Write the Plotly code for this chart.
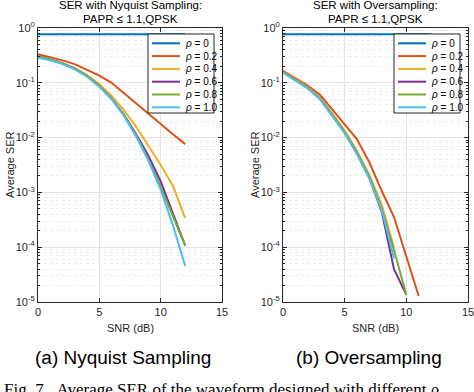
import plotly.graph_objects as go

W, H = 474, 392

# ---------------- data ----------------
snr = [0, 1, 2, 3, 4, 5, 6, 7, 8, 9, 10, 11, 12]
rho_labels = ["0", "0.2", "0.4", "0.6", "0.8", "1.0"]
colors = ["#0072BD", "#D95319", "#EDB120", "#7E2F8E", "#77AC30", "#4DBEEE"]

# (a) Nyquist sampling
nyq_rho_0 = [0.77, 0.77, 0.77, 0.77, 0.77, 0.77, 0.77, 0.77, 0.77, 0.77, 0.77, 0.77, 0.77]
nyq_rho_02 = [0.334, 0.295, 0.257, 0.219, 0.174, 0.135, 0.100, 0.0646, 0.0417, 0.0269, 0.0174, 0.0115, 0.0076]
nyq_rho_04 = [0.302, 0.269, 0.229, 0.186, 0.138, 0.0955, 0.0575, 0.0316, 0.0158, 0.00724, 0.00316, 0.00132, 0.000339]
nyq_rho_06 = [0.302, 0.266, 0.226, 0.182, 0.132, 0.0871, 0.0513, 0.0263, 0.0115, 0.00468, 0.00158, 0.000417, 0.000107]
nyq_rho_08 = [0.302, 0.266, 0.226, 0.182, 0.132, 0.0871, 0.0513, 0.0257, 0.01096, 0.00398, 0.00126, 0.000355, 0.000107]
nyq_rho_10 = [0.288, 0.257, 0.219, 0.176, 0.129, 0.0851, 0.0501, 0.0251, 0.01047, 0.0038, 0.00112, 0.000251, 0.0000457]

# (b) Oversampling
ovs_rho_0 = [0.77, 0.77, 0.77, 0.77, 0.77, 0.77, 0.77, 0.77, 0.77, 0.77, 0.77, 0.77, 0.77]
ovs_rho_02 = [0.166, 0.120, 0.0891, 0.0603, 0.0316, 0.0174, 0.00933, 0.00355, 0.00107, 0.000355, 0.0000676, 0.0000129]
ovs_rho_04 = [0.158, 0.116, 0.0832, 0.0531, 0.0275, 0.0135, 0.00575, 0.00209, 0.000603, 0.0001]
ovs_rho_06 = [0.155, 0.1135, 0.0804, 0.0507, 0.0257, 0.0123, 0.00513, 0.00186, 0.000447, 0.0000398, 0.0000135]
ovs_rho_08 = [0.155, 0.1135, 0.0804, 0.0513, 0.0260, 0.0126, 0.00537, 0.00195, 0.000501, 0.0000891, 0.0000135]
ovs_rho_10 = [0.153, 0.112, 0.0794, 0.0501, 0.0251, 0.0120, 0.00501, 0.00178, 0.000479, 0.0000631]

x_ticks = [0, 5, 10, 15]
y_ticks = [1e-5, 1e-4, 1e-3, 1e-2, 1e-1, 1]
y_ticktext = ["10<sup>-5</sup>", "10<sup>-4</sup>", "10<sup>-3</sup>", "10<sup>-2</sup>", "10<sup>-1</sup>", "10<sup>0</sup>"]
y_minor = [m * 10.0 ** e for e in range(-5, 0) for m in range(2, 10)]

panel_titles = [("SER with Nyquist Sampling:", "PAPR \u2264 1.1,QPSK"),
                ("SER with Oversampling:", "PAPR \u2264 1.1,QPSK")]
captions = ["(a) Nyquist Sampling", "(b) Oversampling"]
fig_caption = "Fig. 7.&nbsp;&nbsp;Average SER of the waveform designed with different <i>\u03c1</i>"

panels = [
    [nyq_rho_0, nyq_rho_02, nyq_rho_04, nyq_rho_06, nyq_rho_08, nyq_rho_10],
    [ovs_rho_0, ovs_rho_02, ovs_rho_04, ovs_rho_06, ovs_rho_08, ovs_rho_10],
]

# ---------------- layout helpers ----------------
def px(x):
    return x / W

def py(y):
    return 1 - y / H

FONT = "Liberation Sans, Arial, Helvetica, sans-serif"
AXC = "#262626"
x_doms = [(38, 222), (283, 468)]
y_dom = (28, 302)

fig = go.Figure()

for p, series in enumerate(panels):
    xa = "x" if p == 0 else "x2"
    ya = "y" if p == 0 else "y2"
    for i, vals in enumerate(series):
        fig.add_trace(go.Scatter(
            x=snr[:len(vals)], y=vals, mode="lines",
            line=dict(color=colors[i], width=2),
            name="\u03c1 = " + rho_labels[i],
            showlegend=False, xaxis=xa, yaxis=ya,
        ))

common_x = dict(range=[0, 15], tickvals=x_ticks, ticks="inside", ticklen=4,
                tickcolor=AXC, showline=True, linecolor=AXC, linewidth=1,
                mirror="ticks", showgrid=True, gridcolor="#e3e3e3", gridwidth=1,
                zeroline=False, automargin=False, ticklabeloverflow="allow",
                tickfont=dict(family=FONT, size=11, color=AXC))
common_y = dict(type="log", range=[-5, 0], tickvals=y_ticks, ticktext=y_ticktext,
                ticks="inside", ticklen=4, tickcolor=AXC, showline=True,
                linecolor=AXC, linewidth=1, mirror="ticks", showgrid=True,
                gridcolor="#e3e3e3", gridwidth=1, zeroline=False, automargin=False,
                tickfont=dict(family=FONT, size=11, color=AXC),
                minor=dict(tickmode="array", tickvals=y_minor, ticks="inside",
                           ticklen=2, tickcolor=AXC, showgrid=True,
                           gridcolor="#ececec", griddash="dot", gridwidth=1))

layout_axes = {}
for p in range(2):
    sx = "" if p == 0 else "2"
    layout_axes["xaxis" + sx] = dict(common_x, domain=[px(x_doms[p][0]), px(x_doms[p][1])],
                                      anchor="y" + sx)
    layout_axes["yaxis" + sx] = dict(common_y, domain=[py(y_dom[1]), py(y_dom[0])],
                                      anchor="x" + sx)

annotations = []
shapes = []
for p in range(2):
    x0, x1 = x_doms[p]
    cx = (x0 + x1) / 2
    # titles
    annotations.append(dict(text=panel_titles[p][0], x=px(cx), y=py(5), xref="paper", yref="paper",
                            xanchor="center", yanchor="middle", showarrow=False,
                            font=dict(family=FONT, size=11.5, color="#000000")))
    annotations.append(dict(text=panel_titles[p][1], x=px(cx), y=py(18.5), xref="paper", yref="paper",
                            xanchor="center", yanchor="middle", showarrow=False,
                            font=dict(family=FONT, size=11.5, color="#000000")))
    # axis titles
    annotations.append(dict(text="SNR (dB)", x=px(cx), y=py(328), xref="paper", yref="paper",
                            xanchor="center", yanchor="middle", showarrow=False,
                            font=dict(family=FONT, size=11, color=AXC)))
    annotations.append(dict(text="Average SER", x=px(x0 - 28), y=py((y_dom[0] + y_dom[1]) / 2),
                            xref="paper", yref="paper", textangle=-90,
                            xanchor="center", yanchor="middle", showarrow=False,
                            font=dict(family=FONT, size=11, color=AXC)))
    # sub-captions
    annotations.append(dict(text=captions[p], x=px([123, 369][p]), y=py(357), xref="paper", yref="paper",
                            xanchor="center", yanchor="middle", showarrow=False,
                            font=dict(family=FONT, size=19, color="#000000")))
    # custom legend (compact MATLAB-style box)
    bx1 = x1 - 8
    bx0 = bx1 - 66
    by0, by1 = 34, 113
    shapes.append(dict(type="rect", xref="paper", yref="paper",
                       x0=px(bx0), x1=px(bx1), y0=py(by1), y1=py(by0),
                       line=dict(color=AXC, width=1), fillcolor="white", layer="above"))
    for i, lab in enumerate(rho_labels):
        ry = by0 + 9.3 + i * 12.8
        shapes.append(dict(type="line", xref="paper", yref="paper",
                           x0=px(bx0 + 4), x1=px(bx0 + 32), y0=py(ry), y1=py(ry),
                           line=dict(color=colors[i], width=2), layer="above"))
        annotations.append(dict(text="<i>\u03c1</i> = " + lab, x=px(bx0 + 35), y=py(ry),
                                xref="paper", yref="paper", xanchor="left", yanchor="middle",
                                showarrow=False, font=dict(family=FONT, size=10, color="#000000")))

annotations.append(dict(text=fig_caption, x=px(2), y=py(378), xref="paper", yref="paper",
                        xanchor="left", yanchor="top", showarrow=False,
                        font=dict(family="Liberation Serif, Times New Roman, serif", size=17,
                                  color="#000000")))

fig.update_layout(
    width=W, height=H,
    margin=dict(l=0, r=0, t=0, b=0, autoexpand=False),
    paper_bgcolor="white", plot_bgcolor="white",
    showlegend=False, hovermode=False,
    annotations=annotations, shapes=shapes,
    **layout_axes,
)

fig.write_html("out.html", config={"displayModeBar": False},
               post_script="document.body.style.margin='0px';")
